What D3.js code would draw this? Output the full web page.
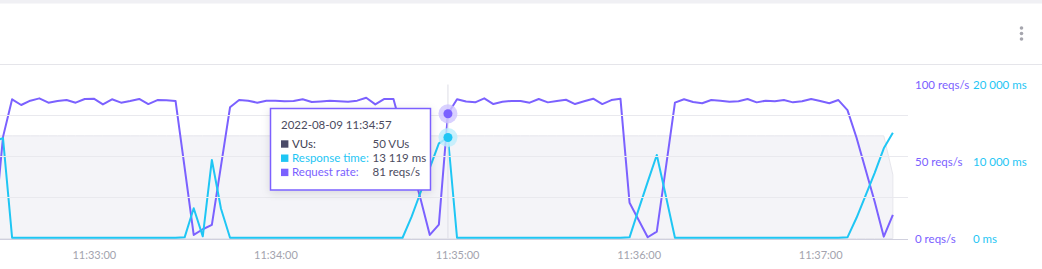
<!DOCTYPE html>
<html>
<head>
<meta charset="utf-8">
<script src="https://cdn.jsdelivr.net/npm/d3@7"></script>
<style>
  body { margin: 0; background: #fff; font-family: Lato, "Open Sans", sans-serif; }
  svg { display: block; }
</style>
</head>
<body>
<div class="container"></div>
<script>
const WIDTH = 1042;
const HEIGHT = 269;
const PLOT_W = 908;
const TOP = 84.5;
const BOTTOM = 238.5;

// samples every 3 s, first one at 11:32:27
const START = new Date(2022, 7, 9, 11, 32, 27);
const STEP = 3000;
const DOMAIN = [new Date(2022, 7, 9, 11, 32, 29), new Date(2022, 7, 9, 11, 37, 29)];
const TICKS = ["11:33:00", "11:34:00", "11:35:00", "11:36:00", "11:37:00"];

var vus = [
  50,50,50,50,50,50,50,50,50,50, 50,50,50,50,50,50,50,50,50,50,
  50,50,50,50,50,50,50,50,50,50, 50,50,50,50,50,50,50,50,50,50,
  50,50,50,50,50,50,50,50,50,50, 50,50,50,50,50,50,50,50,50,50,
  50,50,50,50,50,50,50,50,50,50, 50,50,50,50,50,50,50,50,50,50,
  50,50,50,50,50,50,50,50,50,50, 50,50,50,50,50,50,50,50,50,31
];

var reqRate = [
  3, 66, 90.4, 86.7, 89.5, 91.0, 88.2, 89.3, 89.9, 88.2,
  90.6, 90.8, 87.1, 90.4, 88.2, 89.3, 90.6, 87.3, 89.9, 89.7,
  89.3, 46, 2.3, 6.0, 8.8, 47, 85.2, 89.9, 89.5, 88.2,
  89.5, 89.5, 89.1, 89.3, 90.4, 88.6, 89.0, 89.5, 89.2, 88.8,
  89.5, 91.4, 87.1, 90.6, 90.6, 68.8, 47, 25.3, 2.3, 9,
  81, 90.4, 89, 88.4, 91.0, 87.3, 88.8, 89.3, 89.3, 88.2,
  90.6, 88.4, 89.3, 90.1, 87.3, 89.1, 90.8, 87.3, 89.9, 90.8,
  23.2, 12, 0.8, 4.4, 46, 88.2, 90.4, 88.6, 87.8, 89.9,
  89.5, 88.8, 89.1, 90.6, 88.4, 89.5, 89.1, 89.9, 88.4, 89.1,
  90.6, 89.3, 87.8, 89.9, 83.4, 65.4, 44.6, 23.8, 1.2, 15.3
];

var respTime = [
  12700, 13010, 100, 90, 95, 100, 90, 100, 95, 100,
  90, 100, 95, 100, 90, 100, 95, 100, 90, 100,
  95, 150, 3920, 280, 10200, 3900, 100, 95, 100, 90,
  100, 95, 100, 90, 100, 95, 100, 90, 100, 95,
  100, 90, 100, 95, 100, 100, 2830, 6040, 9180, 12360,
  13119, 100, 95, 100, 90, 100, 95, 100, 90, 100,
  95, 100, 90, 100, 95, 100, 90, 100, 95, 100,
  150, 3790, 7350, 10840, 5520, 100, 95, 100, 90, 100,
  95, 100, 90, 100, 95, 100, 90, 100, 95, 100,
  90, 100, 95, 100, 150, 2690, 5610, 8530, 11710, 13740
];

const HOVER = 50;

var times = reqRate.map(function(d, i){ return new Date(START.getTime() + i * STEP); });

var x = d3.scaleTime().domain(DOMAIN).range([0, PLOT_W]);
var yReq = d3.scaleLinear().domain([0, 100]).range([BOTTOM, TOP]);
var yMs = d3.scaleLinear().domain([0, 20000]).range([BOTTOM, TOP]);
var yVu = d3.scaleLinear().domain([0, 75]).range([BOTTOM, TOP]);

var spaced = d3.formatLocale({decimal: ".", thousands: " ", grouping: [3], currency: ["", ""]}).format(",");
var parseTick = d3.timeParse("%Y-%m-%d %H:%M:%S");

var svg = d3.select(".container").append("svg")
    .attr("width", WIDTH)
    .attr("height", HEIGHT);

var defs = svg.append("defs");
defs.append("clipPath").attr("id", "plot")
  .append("rect").attr("x", 0).attr("y", 0).attr("width", PLOT_W).attr("height", HEIGHT);
var shadow = defs.append("filter").attr("id", "shadow")
    .attr("x", "-20%").attr("y", "-20%").attr("width", "140%").attr("height", "150%");
shadow.append("feDropShadow").attr("dx", 0).attr("dy", 2).attr("stdDeviation", 4)
    .attr("flood-color", "#000").attr("flood-opacity", 0.12);

// panel chrome
svg.append("rect").attr("x", 0).attr("y", 0).attr("width", WIDTH).attr("height", 3.5).attr("fill", "#f0f0f4");
svg.append("line").attr("x1", 0).attr("x2", WIDTH).attr("y1", 64.5).attr("y2", 64.5)
    .attr("stroke", "#e5e5ea").attr("stroke-width", 1);
svg.selectAll(".menu").data([28, 33.5, 39]).enter().append("circle")
    .attr("cx", 1021.5).attr("cy", function(d){ return d; }).attr("r", 1.8).attr("fill", "#a6a6ae");

var plot = svg.append("g").attr("clip-path", "url(#plot)");

// VUs area
plot.append("path")
    .datum(vus)
    .attr("fill", "#f4f4f8")
    .attr("stroke", "#e6e6ec")
    .attr("stroke-width", 1)
    .attr("d", d3.area()
        .x(function(d, i){ return x(times[i]); })
        .y0(BOTTOM)
        .y1(function(d){ return yVu(d); }));

// grid
svg.selectAll(".grid").data(yVu.ticks(3)).enter().append("line")
    .attr("x1", 0).attr("x2", PLOT_W)
    .attr("y1", function(d){ return Math.round(yVu(d)) + 0.5; })
    .attr("y2", function(d){ return Math.round(yVu(d)) + 0.5; })
    .attr("stroke", function(d){ return d === 0 ? "#d0d0de" : "#e9e9ee"; })
    .attr("stroke-width", 1);

// hover rule
svg.append("line")
    .attr("x1", x(times[HOVER])).attr("x2", x(times[HOVER]))
    .attr("y1", TOP).attr("y2", BOTTOM)
    .attr("stroke", "#dedee6").attr("stroke-width", 1);

plot.append("path")
    .datum(reqRate)
    .attr("fill", "none")
    .attr("stroke", "#7b61ff")
    .attr("stroke-width", 2)
    .attr("stroke-linejoin", "round")
    .attr("d", d3.line()
        .x(function(d, i){ return x(times[i]); })
        .y(function(d){ return yReq(d); }));

plot.append("path")
    .datum(respTime)
    .attr("fill", "none")
    .attr("stroke", "#1fc6f4")
    .attr("stroke-width", 2)
    .attr("stroke-linejoin", "round")
    .attr("d", d3.line()
        .x(function(d, i){ return x(times[i]); })
        .y(function(d){ return yMs(d); }));

// hover dots
var hx = x(times[HOVER]);
[[yReq(reqRate[HOVER]), "#7b61ff", "#cfc6ff"], [yMs(respTime[HOVER]), "#1fc6f4", "#bdeefc"]].forEach(function(p){
  svg.append("circle").attr("cx", hx).attr("cy", p[0]).attr("r", 9.5).attr("fill", p[2]).attr("opacity", 0.8);
  svg.append("circle").attr("cx", hx).attr("cy", p[0]).attr("r", 4.5).attr("fill", p[1]);
});

// x axis
var xAxis = svg.append("g")
    .attr("transform", "translate(0," + BOTTOM + ")")
    .call(d3.axisBottom(x)
        .tickValues(TICKS.map(function(t){ return parseTick("2022-08-09 " + t); }))
        .tickFormat(d3.timeFormat("%H:%M:%S"))
        .tickSize(0));
xAxis.select(".domain").remove();
xAxis.selectAll("text")
    .attr("y", 20).attr("dy", 0)
    .attr("fill", "#a3a3ae")
    .style("font-family", "Lato, sans-serif").style("font-size", "11px");

// right axes
var reqAxis = svg.append("g")
    .attr("transform", "translate(915,0)")
    .call(d3.axisRight(yReq).tickValues([0, 50, 100]).tickSize(0).tickPadding(0)
        .tickFormat(function(d){ return d + " reqs/s"; }));
var msAxis = svg.append("g")
    .attr("transform", "translate(973,0)")
    .call(d3.axisRight(yMs).tickValues([0, 10000, 20000]).tickSize(0).tickPadding(0)
        .tickFormat(function(d){ return spaced(d) + " ms"; }));
[[reqAxis, "#7b61ff"], [msAxis, "#1fc6f4"]].forEach(function(a){
  a[0].select(".domain").remove();
  a[0].selectAll("text").attr("fill", a[1])
      .style("font-family", "Lato, sans-serif").style("font-size", "11.5px");
});

// tooltip
var tip = svg.append("g").attr("transform", "translate(270.5,108.5)");
tip.append("rect").attr("width", 160).attr("height", 81.5)
    .attr("fill", "#fff").attr("stroke", "#7b61ff").attr("stroke-width", 1.5)
    .attr("filter", "url(#shadow)");
tip.append("text").attr("x", 10.5).attr("y", 20)
    .attr("fill", "#4b4b5e").style("font-size", "11.5px")
    .text(d3.timeFormat("%Y-%m-%d %H:%M:%S")(times[HOVER]));

var rows = [
  {label: "VUs:", value: vus[HOVER] + " VUs", color: "#4a4a68", text: "#3d3d52"},
  {label: "Response time:", value: spaced(respTime[HOVER]) + " ms", color: "#1fc6f4", text: "#1fc6f4"},
  {label: "Request rate:", value: Math.round(reqRate[HOVER]) + " reqs/s", color: "#7b61ff", text: "#7b61ff"}
];
var row = tip.selectAll(".row").data(rows).enter().append("g")
    .attr("transform", function(d, i){ return "translate(10.5," + (39.2 + i * 14.2) + ")"; });
row.append("rect").attr("x", 0).attr("y", -7.4).attr("width", 7.4).attr("height", 7.4)
    .attr("fill", function(d){ return d.color; });
row.append("text").attr("x", 11).attr("y", 0)
    .attr("fill", function(d){ return d.text; }).style("font-size", "11.5px")
    .text(function(d){ return d.label; });
row.append("text").attr("x", 91.5).attr("y", 0)
    .attr("fill", "#4b4b5e").style("font-size", "11.5px")
    .text(function(d){ return d.value; });
</script>
</body>
</html>
